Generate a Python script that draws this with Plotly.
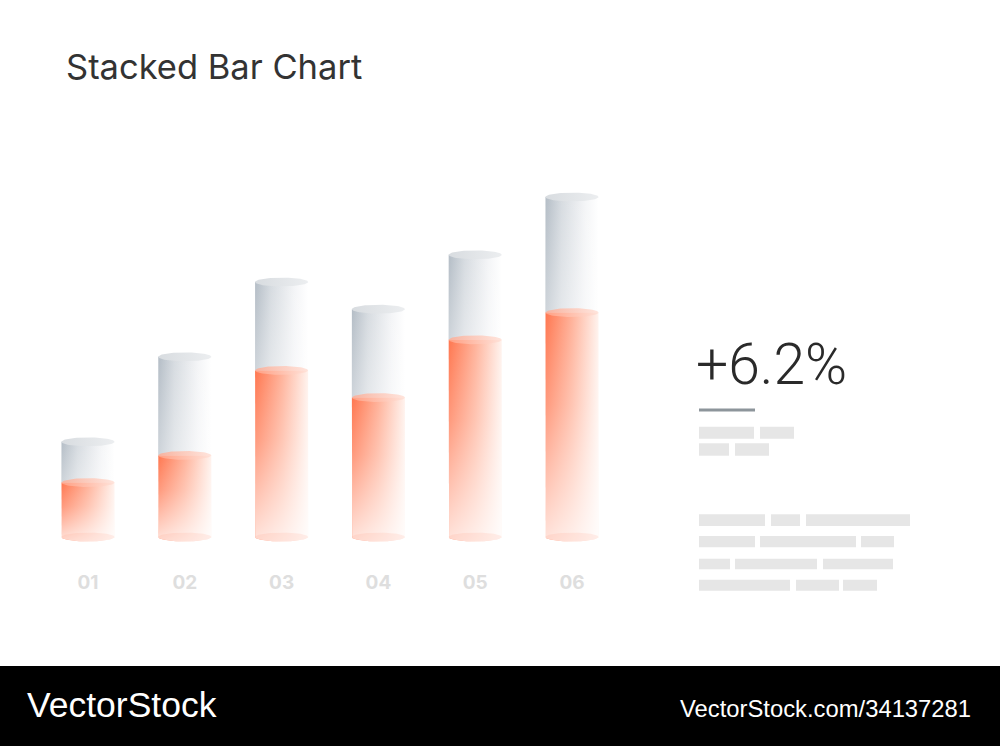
import numpy as np
import plotly.graph_objects as go

# data (arbitrary units, tallest stack = 100)
categories = ["01", "02", "03", "04", "05", "06"]
lower_vals = [16, 24, 49, 41, 58, 66]     # orange segment
upper_vals = [12, 29, 26, 26, 25, 34]     # grey segment on top
headline = "+6.2%"
title = "Stacked Bar Chart"

W, H = 1000, 746


def px_x(p):
    return p / W


def px_y(p):
    return 1 - p / H


HALF_W = 0.274   # half bar width (x units)
CAP_H = 1.3      # half height of cylinder ellipses (y units)
theta = np.linspace(0, 2 * np.pi, 73)
lower_arc = np.linspace(np.pi, 2 * np.pi, 37)


def ellipse(cx, cy):
    return cx + HALF_W * np.cos(theta), cy + CAP_H * np.sin(theta)


def body(cx, y0, y1, rounded):
    if rounded:
        xs = np.concatenate([[cx - HALF_W], cx + HALF_W * np.cos(lower_arc), [cx + HALF_W, cx - HALF_W]])
        ys = np.concatenate([[y1], y0 + CAP_H * np.sin(lower_arc), [y1, y1]])
    else:
        xs = np.array([cx - HALF_W, cx - HALF_W, cx + HALF_W, cx + HALF_W, cx - HALF_W])
        ys = np.array([y1, y0, y0, y1, y1])
    return xs, ys


def poly(xs, ys, scale, orient="horizontal", color=None):
    t = go.Scatter(x=xs, y=ys, mode="lines", fill="toself", line=dict(width=0),
                   hoverinfo="skip", showlegend=False)
    if scale is not None:
        t.fillgradient = dict(type=orient, colorscale=scale)
    else:
        t.fillcolor = color
    return t


fig = go.Figure()
for i, (lo, up) in enumerate(zip(lower_vals, upper_vals)):
    cx = i + 1
    top = lo + up
    # orange body + fade to white toward the bottom
    xs, ys = body(cx, 0, lo, True)
    fig.add_trace(poly(xs, ys, [[0, "#ff7750"], [0.5, "#ffb29a"], [1, "#fff3ee"]]))
    fig.add_trace(poly(xs, ys, [[0, "rgba(255,255,255,0.8)"], [0.6, "rgba(255,255,255,0.25)"],
                                [1, "rgba(255,255,255,0)"]], "vertical"))
    # grey body
    xs, ys = body(cx, lo, top, False)
    fig.add_trace(poly(xs, ys, [[0, "#b4bdc6"], [0.3, "#d6dbe0"], [0.75, "#f4f5f7"], [1, "#ffffff"]]))
    fig.add_trace(poly(xs, ys, [[0, "rgba(255,255,255,0.35)"], [1, "rgba(255,255,255,0)"]], "vertical"))
    # caps
    xs, ys = ellipse(cx, top)
    fig.add_trace(poly(xs, ys, [[0, "#d8dce0"], [1, "#eceef0"]]))
    xs, ys = ellipse(cx, lo)
    fig.add_trace(poly(xs, ys, [[0, "rgba(255,170,145,0.8)"], [1, "rgba(255,222,212,0.8)"]]))
    xs, ys = ellipse(cx, 0)
    fig.add_trace(poly(xs, ys, None, color="rgba(255,140,110,0.13)"))

# placeholder text blocks on the right (pixel rectangles)
placeholder_rows = [
    (426.7, 438.7, [(699, 754), (760, 794)]),
    (443.3, 455.7, [(699, 729), (735, 769)]),
    (514.3, 526.0, [(699, 765), (771, 800), (806, 910)]),
    (536.0, 547.3, [(699, 755), (760, 856), (861, 894)]),
    (558.7, 569.3, [(699, 730), (735, 817), (823, 893)]),
    (579.7, 590.7, [(699, 790), (796, 839), (843, 877)]),
]
shapes = []
for y0, y1, segs in placeholder_rows:
    for x0, x1 in segs:
        shapes.append(dict(type="rect", xref="paper", yref="paper", layer="below",
                           x0=px_x(x0), x1=px_x(x1), y0=px_y(y1), y1=px_y(y0),
                           fillcolor="#e6e6e6", line=dict(width=0)))
shapes.append(dict(type="line", xref="paper", yref="paper", x0=px_x(699), x1=px_x(755),
                   y0=px_y(410), y1=px_y(410), line=dict(color="#8d959b", width=3)))
# footer band
shapes.append(dict(type="rect", xref="paper", yref="paper", x0=0, x1=1, y0=0, y1=px_y(666),
                   fillcolor="#000000", line=dict(width=0)))

annotations = [
    dict(text=title, x=px_x(64), y=px_y(67), xanchor="left", yanchor="middle",
         font=dict(family="Inter", size=34.5, color="#333333", weight=400)),
    dict(text=headline, x=px_x(694), y=px_y(364), xanchor="left", yanchor="middle",
         font=dict(family="Roboto", size=57, color="#2a2a2a", weight=300)),
    dict(text="VectorStock", x=px_x(25), y=px_y(705), xanchor="left", yanchor="middle",
         font=dict(family="Liberation Sans", size=35.5, color="#ffffff")),
    dict(text="VectorStock.com/34137281", x=px_x(973), y=px_y(708), xanchor="right", yanchor="middle",
         font=dict(family="Liberation Sans", size=23.8, color="#ffffff")),
]
for a in annotations:
    a.update(xref="paper", yref="paper", showarrow=False)

fig.update_layout(
    width=W, height=H, margin=dict(l=0, r=0, t=0, b=0),
    paper_bgcolor="#ffffff", plot_bgcolor="#ffffff",
    shapes=shapes, annotations=annotations,
    xaxis=dict(domain=[px_x(39.6), px_x(620.4)], range=[0.5, 6.5],
               tickvals=list(range(1, len(categories) + 1)), ticktext=categories,
               tickfont=dict(family="Inter", size=19, color="#dedede", weight=700),
               showgrid=False, zeroline=False, showline=False, ticks="",
               ticklabelstandoff=25, fixedrange=True),
    yaxis=dict(domain=[px_y(543.8), px_y(129)], range=[-2, 120], visible=False,
               fixedrange=True),
)

# page margin off so the figure sits flush in the window
fig.write_html("out.html", config={"displayModeBar": False},
               post_script="document.body.style.margin='0';document.body.style.overflow='hidden';")
